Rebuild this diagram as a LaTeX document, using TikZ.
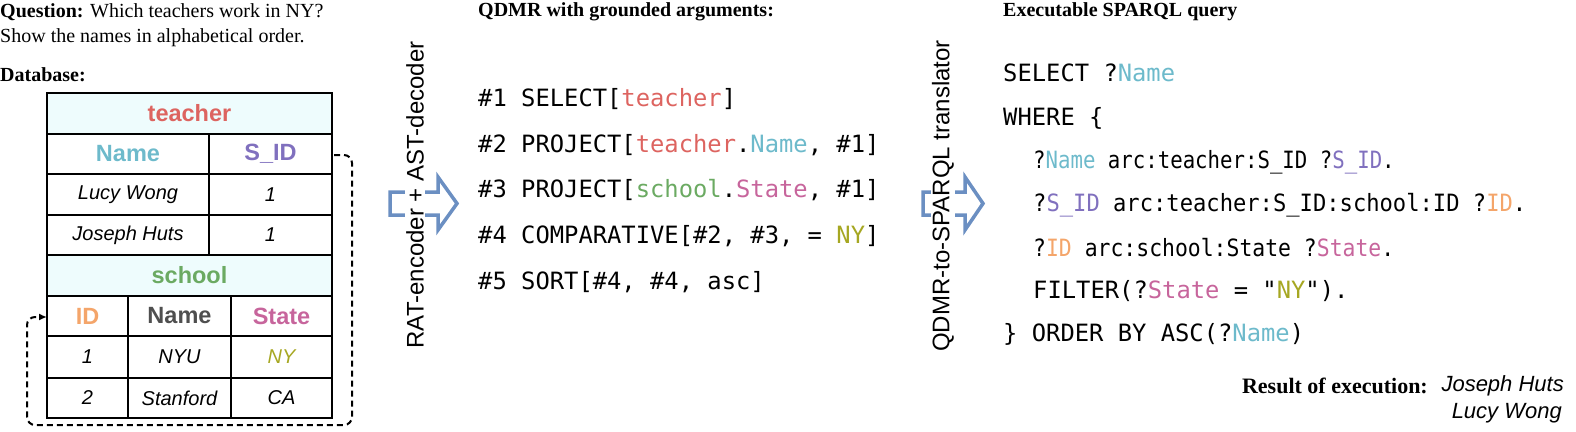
\documentclass[tikz,border=0pt]{standalone}
\usepackage{fontspec}
\setmainfont{Liberation Serif}
\setsansfont{Liberation Sans}
\setmonofont{DejaVu Sans Mono}
\usetikzlibrary{arrows.meta}
\definecolor{cT}{HTML}{DD6460}
\definecolor{cN}{HTML}{6DBACB}
\definecolor{cS}{HTML}{8070BE}
\definecolor{cSc}{HTML}{6BAA62}
\definecolor{cI}{HTML}{F4A56A}
\definecolor{cSt}{HTML}{C7659C}
\definecolor{cNY}{HTML}{A6A722}
\definecolor{cG}{HTML}{4F4F4F}
\definecolor{hdr}{HTML}{EEFCFD}
\definecolor{arr}{HTML}{6B8FC2}
\begin{document}
\begin{tikzpicture}[x=1pt,y=-1pt,
  lab/.style={font=\fontsize{20}{24}\selectfont, anchor=west, inner sep=0},
  hd/.style={font=\sffamily\bfseries\fontsize{23.5}{28}\selectfont, inner sep=0},
  dat/.style={font=\sffamily\itshape\fontsize{20}{24}\selectfont, inner sep=0},
  code/.style={font=\ttfamily\fontsize{23.8}{28}\selectfont, anchor=west, inner sep=0},
  rot/.style={font=\sffamily\fontsize{24}{28}\selectfont, rotate=90, inner sep=1pt},
  cell/.style={draw, line width=2pt},
  barrow/.style={draw=arr, line width=3.5pt, line join=miter},
  link/.style={line width=2pt, dash pattern=on 6pt off 4pt, rounded corners=8pt}]
\useasboundingbox (0,0) rectangle (1576,431);
% left texts
\node[lab] (q1) at (0,12) {\textbf{Question:} Which teachers work in NY?};
\node[lab] (q2) at (0,38) {Show the names in alphabetical order.};
\node[lab] (db) at (0,75) {\textbf{Database:}};
% table
\fill[hdr] (47,93) rectangle (332,134);
\fill[hdr] (47,255) rectangle (332,296);
\draw[cell] (47,93) rectangle (332,418);
\foreach \y in {134,174,215,255,296,336,378} \draw[cell] (47,\y) -- (332,\y);
\draw[cell] (209,134) -- (209,255);
\draw[cell] (128,296) -- (128,418);
\draw[cell] (231,296) -- (231,418);
\node[hd, text=cT] (tt) at (189.5,113.5) {teacher};
\node[hd, text=cN] (tn) at (128,154) {Name};
\node[hd, text=cS] (ts) at (270.5,154) {S\_ID};
\node[dat] (r1a) at (128,194.5) {Lucy Wong};
\node[dat] (r1b) at (270.5,194.5) {1};
\node[dat] (r2a) at (128,235) {Joseph Huts};
\node[dat] (r2b) at (270.5,235) {1};
\node[hd, text=cSc] (st) at (189.5,275.5) {school};
\node[hd, text=cI] (si) at (87.5,316) {ID};
\node[hd, text=cG] (sn) at (179.5,316) {Name};
\node[hd, text=cSt] (ss) at (281.5,316) {State};
\node[dat] (s1a) at (87.5,357) {1};
\node[dat] (s1b) at (179.5,357) {NYU};
\node[dat, text=cNY] (s1c) at (281.5,357) {NY};
\node[dat] (s2a) at (87.5,398) {2};
\node[dat] (s2b) at (179.5,398) {Stanford};
\node[dat] (s2c) at (281.5,398) {CA};
\coordinate (sidR) at (334,155);
\coordinate (idL) at (47,317);
\draw[link, -{Latex[length=8pt,width=7pt]}] (sidR) -- (352,155) -- (352,425) -- (27,425) -- (27,317) -- (idL);
% arrow 1
\draw[barrow] (390,192) -- (438,192) -- (438,177) -- (457,203.5) -- (438,230) -- (438,215) -- (390,215) -- cycle;
\node[rot, fill=white] (l1) at (415,195) {RAT-encoder + AST-decoder};
% QDMR
\node[lab] (qh) at (478,12) {\textbf{QDMR with grounded arguments:}};
\node[code] (c1) at (478,99) {\#1 SELECT[\textcolor{cT}{teacher}]};
\node[code] (c2) at (478,145) {\#2 PROJECT[\textcolor{cT}{teacher}.\textcolor{cN}{Name}, \#1]};
\node[code] (c3) at (478,190) {\#3 PROJECT[\textcolor{cSc}{school}.\textcolor{cSt}{State}, \#1]};
\node[code] (c4) at (478,236) {\#4 COMPARATIVE[\#2, \#3, = \textcolor{cNY}{NY}]};
\node[code] (c5) at (478,282) {\#5 SORT[\#4, \#4, asc]};
% arrow 2
\draw[barrow] (923,192) -- (965,192) -- (965,177) -- (983,203.5) -- (965,230) -- (965,215) -- (923,215) -- cycle;
\node[rot, fill=white] (l2) at (943,196) {QDMR-to-SPARQL translator};
% SPARQL
\node[lab] (sh) at (1003,12) {\textbf{Executable SPARQL query}};
\node[code] (p1) at (1003,73) {SELECT ?\textcolor{cN}{Name}};
\node[code] (p2) at (1003,118) {WHERE \{};
\node[code, xscale=0.87, transform shape] (p3) at (1033,162) {?\textcolor{cN}{Name} arc:teacher:S\_ID ?\textcolor{cS}{S\_ID}.};
\node[code, xscale=0.93, transform shape] (p4) at (1033,205) {?\textcolor{cS}{S\_ID} arc:teacher:S\_ID:school:ID ?\textcolor{cI}{ID}.};
\node[code, xscale=0.9, transform shape] (p5) at (1033,248) {?\textcolor{cI}{ID} arc:school:State ?\textcolor{cSt}{State}.};
\node[code] (p6) at (1033,291) {FILTER(?\textcolor{cSt}{State} = "\textcolor{cNY}{NY}").};
\node[code] (p7) at (1003,334) {\} ORDER BY ASC(?\textcolor{cN}{Name})};
\node[font=\fontsize{22}{26}\selectfont, anchor=east, inner sep=0] (re) at (1428,386) {\textbf{Result of execution:}};
\node[font=\sffamily\itshape\fontsize{22}{26}\selectfont, anchor=east, inner sep=0] (res1) at (1564,386) {Joseph Huts};
\node[font=\sffamily\itshape\fontsize{22}{26}\selectfont, anchor=east, inner sep=0] (res2) at (1562,413) {Lucy Wong};
\end{tikzpicture}
\end{document}
